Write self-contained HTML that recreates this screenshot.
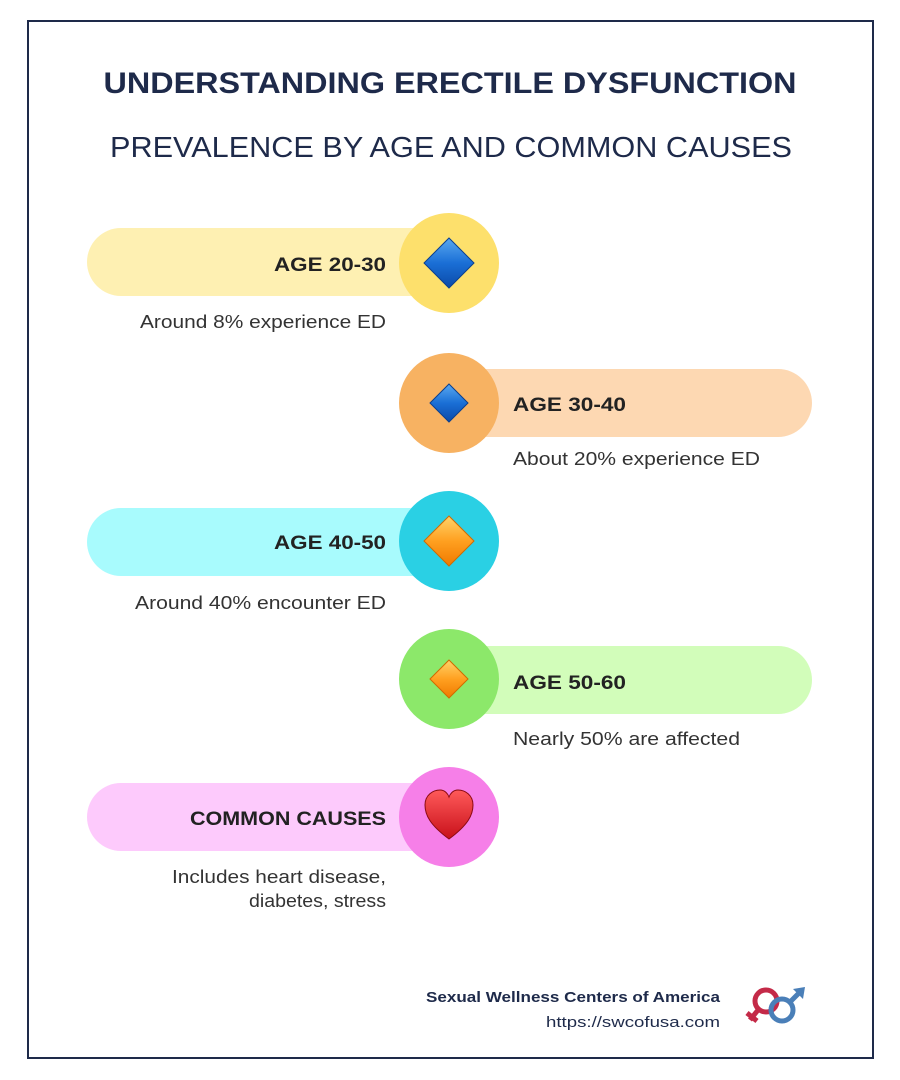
<!DOCTYPE html>
<html><head><meta charset="utf-8"><style>
html,body{margin:0;padding:0;background:#fff;}
svg{display:block;}
</style></head><body>
<svg width="900" height="1080" viewBox="0 0 900 1080" xmlns="http://www.w3.org/2000/svg" font-family="Liberation Sans, sans-serif">
<defs>
<linearGradient id="bl" x1="0" y1="0" x2="0" y2="1"><stop offset="0" stop-color="#5aa8f0"/><stop offset="0.5" stop-color="#1a6fd6"/><stop offset="1" stop-color="#0b4aa8"/></linearGradient>
<linearGradient id="or" x1="0" y1="0" x2="0" y2="1"><stop offset="0" stop-color="#ffd36a"/><stop offset="0.5" stop-color="#ffa020"/><stop offset="1" stop-color="#f07a00"/></linearGradient>
<linearGradient id="ht" x1="0" y1="0" x2="0" y2="1"><stop offset="0" stop-color="#ff5a5a"/><stop offset="1" stop-color="#c8101a"/></linearGradient>
</defs>
<rect x="28" y="21" width="845" height="1037" fill="#fff" stroke="#1e2a4a" stroke-width="2"/>
<text x="450" y="93" text-anchor="middle" font-size="30" font-weight="bold" fill="#1e2a4a" textLength="693" lengthAdjust="spacingAndGlyphs">UNDERSTANDING ERECTILE DYSFUNCTION</text>
<text x="451" y="157" text-anchor="middle" font-size="29" fill="#1e2a4a" textLength="682" lengthAdjust="spacingAndGlyphs">PREVALENCE BY AGE AND COMMON CAUSES</text>

<!-- row1 -->
<rect x="87" y="228" width="380" height="68" rx="34" fill="#fef0b2"/>
<circle cx="449" cy="263" r="50" fill="#fde06c"/>
<polygon points="449,238 474,263 449,288 424,263" fill="url(#bl)" stroke="#0a3f8f" stroke-width="1"/>
<text x="274" y="271" font-size="19" font-weight="bold" fill="#222" textLength="112" lengthAdjust="spacingAndGlyphs">AGE 20-30</text>
<text x="140" y="328" font-size="18" fill="#333" textLength="246" lengthAdjust="spacingAndGlyphs">Around 8% experience ED</text>

<!-- row2 -->
<rect x="430" y="369" width="382" height="68" rx="34" fill="#fdd8b2"/>
<circle cx="449" cy="403" r="50" fill="#f7b262"/>
<polygon points="449,384 468,403 449,422 430,403" fill="url(#bl)" stroke="#0a3f8f" stroke-width="1"/>
<text x="513" y="411" font-size="19" font-weight="bold" fill="#222" textLength="113" lengthAdjust="spacingAndGlyphs">AGE 30-40</text>
<text x="513" y="465" font-size="18" fill="#333" textLength="247" lengthAdjust="spacingAndGlyphs">About 20% experience ED</text>

<!-- row3 -->
<rect x="87" y="508" width="380" height="68" rx="34" fill="#a8fbfd"/>
<circle cx="449" cy="541" r="50" fill="#2ad0e4"/>
<polygon points="449,516 474,541 449,566 424,541" fill="url(#or)" stroke="#d06a00" stroke-width="1"/>
<text x="274" y="549" font-size="19" font-weight="bold" fill="#222" textLength="112" lengthAdjust="spacingAndGlyphs">AGE 40-50</text>
<text x="135" y="609" font-size="18" fill="#333" textLength="251" lengthAdjust="spacingAndGlyphs">Around 40% encounter ED</text>

<!-- row4 -->
<rect x="430" y="646" width="382" height="68" rx="34" fill="#d2fdba"/>
<circle cx="449" cy="679" r="50" fill="#8ce86a"/>
<polygon points="449,660 468,679 449,698 430,679" fill="url(#or)" stroke="#d06a00" stroke-width="1"/>
<text x="513" y="689" font-size="19" font-weight="bold" fill="#222" textLength="113" lengthAdjust="spacingAndGlyphs">AGE 50-60</text>
<text x="513" y="745" font-size="18" fill="#333" textLength="227" lengthAdjust="spacingAndGlyphs">Nearly 50% are affected</text>

<!-- row5 -->
<rect x="87" y="783" width="380" height="68" rx="34" fill="#fdcafc"/>
<circle cx="449" cy="817" r="50" fill="#f67fe8"/>
<path d="M449,839 C430,825 425,815 425,805 C425,795 433,790 440,790 C445,790 448,794 449,797 C450,794 453,790 458,790 C465,790 473,795 473,805 C473,815 468,825 449,839 Z" fill="url(#ht)" stroke="#8a0a10" stroke-width="1"/>
<text x="190" y="825" font-size="19" font-weight="bold" fill="#222" textLength="196" lengthAdjust="spacingAndGlyphs">COMMON CAUSES</text>
<text x="172" y="883" font-size="18" fill="#333" textLength="214" lengthAdjust="spacingAndGlyphs">Includes heart disease,</text>
<text x="249" y="907" font-size="18" fill="#333" textLength="137" lengthAdjust="spacingAndGlyphs">diabetes, stress</text>

<!-- footer -->
<text x="426" y="1002" font-size="15" font-weight="bold" fill="#1e2a4a" textLength="294" lengthAdjust="spacingAndGlyphs">Sexual Wellness Centers of America</text>
<text x="546" y="1027" font-size="15" fill="#1e2a4a" textLength="174" lengthAdjust="spacingAndGlyphs">https://swcofusa.com</text>
<g fill="none" stroke-width="5">
<circle cx="766" cy="1001" r="11" stroke="#c42a48"/>
<line x1="758" y1="1010" x2="750" y2="1020" stroke="#c42a48"/>
<line x1="747" y1="1013" x2="757" y2="1021" stroke="#c42a48"/>
<circle cx="782" cy="1010" r="11" stroke="#4a7fb8"/>
<line x1="790" y1="1002" x2="800" y2="992" stroke="#4a7fb8"/>
</g>
<polygon points="805,987 793,989 803,999" fill="#4a7fb8"/>
</svg>
</body></html>
